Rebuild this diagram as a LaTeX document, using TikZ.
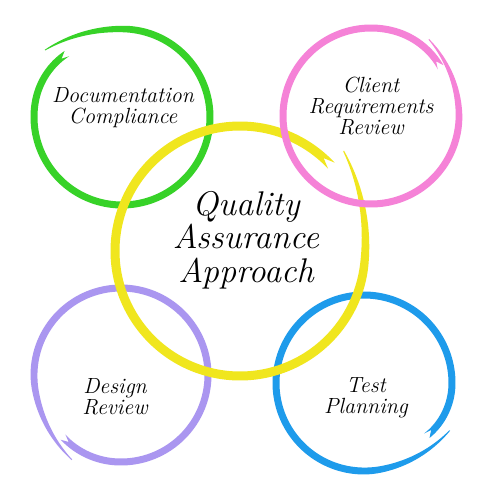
\documentclass[tikz,border=0pt]{standalone}
\usepackage{tikz}
\usetikzlibrary{positioning}
\definecolor{greenRing}{RGB}{55,210,40}
\definecolor{pinkRing}{RGB}{245,130,215}
\definecolor{yellowRing}{RGB}{240,230,30}
\definecolor{purpleRing}{RGB}{170,150,240}
\definecolor{blueRing}{RGB}{30,155,235}
\tikzstyle{canvas} = [x = 0.02cm, y = -0.02cm]
\tikzstyle{ringText} = [align=center, font=\fontsize{12.5}{12}\selectfont\itshape]
\tikzstyle{titleText} = [align=center, font=\fontsize{19.5}{19}\selectfont\itshape]
\newcommand{\ringRadius}[6]{(#1 + #4*max(0,1-(\t-#2)/50)^2 - #5*max(0,1-(#3-\t)/40)^2 #6*0.5*(1-0.88*max(0,1-(\t-#2)/70)^2))}
\newcommand{\brushRing}[9]{
  \fill [#1] plot [domain=#6:#7, samples=220, variable=\t]
    ({#2 + \ringRadius{#4}{#6}{#7}{#8}{#9}{+#5}*cos(\t)},
     {#3 + \ringRadius{#4}{#6}{#7}{#8}{#9}{+#5}*sin(\t)})
    -- ({#2 + (#4 - #9)*cos(#7 - 5)}, {#3 + (#4 - #9)*sin(#7 - 5)})
    -- plot [domain=#7:#6, samples=220, variable=\t]
    ({#2 + \ringRadius{#4}{#6}{#7}{#8}{#9}{-#5}*cos(\t)},
     {#3 + \ringRadius{#4}{#6}{#7}{#8}{#9}{-#5}*sin(\t)})
    -- cycle;
}

\begin{document}
\begin{tikzpicture}[canvas]
  \useasboundingbox [fill=white] (0,0) rectangle (496,500);
  \brushRing{greenRing}{122}{117}{88}{7}{221}{589}{14}{4}
  \brushRing{purpleRing}{121}{375}{87}{7}{120}{493}{11}{2}
  \brushRing{blueRing}{364}{383}{88}{7}{29}{400}{10}{6}
  \brushRing{yellowRing}{240}{251}{125}{9}{316}{677}{19}{0}
  \brushRing{pinkRing}{371}{116}{88}{7}{307}{685}{8}{3}

  \node [ringText] (documentation) at (123,108) {Documentation\\Compliance};
  \node [ringText] (client) at (371,106) {Client\\Requirements\\Review};
  \node [titleText] (quality) at (246,240) {Quality\\Assurance\\Approach};
  \node [ringText] (design) at (115,397) {Design\\Review};
  \node [ringText] (test) at (366,398) {Test\\Planning};
\end{tikzpicture}
\end{document}
